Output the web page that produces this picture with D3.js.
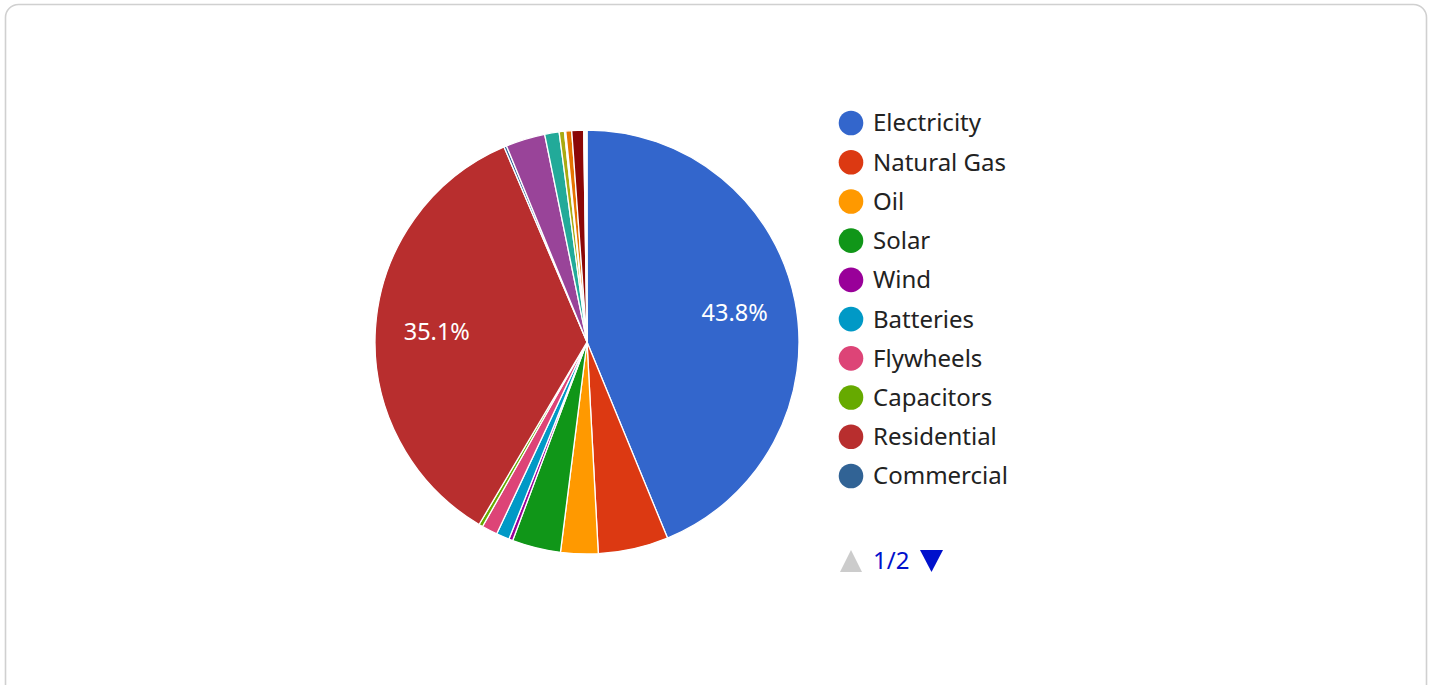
<!DOCTYPE html>
<html>
<head>
<meta charset="utf-8">
<script src="https://cdn.jsdelivr.net/npm/d3@7"></script>
<style>
  html, body { margin: 0; padding: 0; background: #fff; }
  svg { display: block; font-family: "Noto Sans", "Open Sans", sans-serif; }
</style>
</head>
<body>
<svg id="chart"></svg>
<script>
// slice names, shares (%) and colours, clockwise from 12 o'clock
const categories = [
  "Electricity", "Natural Gas", "Oil", "Solar", "Wind", "Batteries",
  "Flywheels", "Capacitors", "Residential", "Commercial",
  "Industrial", "Transportation", "Agriculture", "Hydro", "Nuclear",
  "Geothermal", "Biomass", "Hydrogen", "Other"
];
const shares = [
  43.8, 5.35, 2.85, 3.7, 0.3, 1.0,
  1.2, 0.3, 35.1, 0.2,
  3.0, 1.1, 0.4, 0.1, 0.45,
  0.9, 0.1, 0.1, 0.05
];
const colors = [
  "#3366cc", "#dc3912", "#ff9900", "#109618", "#990099", "#0099c6",
  "#dd4477", "#66aa00", "#b82e2e", "#316395",
  "#994499", "#22aa99", "#aaaa11", "#6633cc", "#e67300",
  "#8b0707", "#651067", "#329262", "#5574a6"
];
const legendPage = "1/2";

const width = 1432;
const height = 685;
const cx = 587, cy = 342, radius = 212;

const svg = d3.select("svg#chart").attr("width", width).attr("height", height);

// card border
svg.append("rect")
  .attr("x", 5.5).attr("y", 4.5)
  .attr("width", 1421).attr("height", 720)
  .attr("rx", 13)
  .style("fill", "none")
  .style("stroke", "#d0d0d0")
  .style("stroke-width", 1.6);

const data = categories.map((name, i) => ({ name, value: shares[i], color: colors[i] }));
const total = d3.sum(shares);

const pie = d3.pie().sort(null).value(d => d.value);
const arcs = pie(data);
const arc = d3.arc().innerRadius(0).outerRadius(radius);
const labelArc = d3.arc().innerRadius(radius * 0.71).outerRadius(radius * 0.71);

const g = svg.append("g").attr("transform", `translate(${cx},${cy})`);

g.selectAll("path")
  .data(arcs)
  .join("path")
  .attr("d", arc)
  .style("fill", d => d.data.color)
  .style("stroke", "#fff")
  .style("stroke-width", 1.3)
  .style("stroke-linejoin", "round");

const fmt = d3.format(".1%");
g.selectAll("text.slice-label")
  .data(arcs.filter(d => d.data.value / total > 0.2))
  .join("text")
  .attr("class", "slice-label")
  .attr("transform", d => `translate(${labelArc.centroid(d)})`)
  .attr("text-anchor", "middle")
  .attr("dy", "0.35em")
  .style("fill", "#fff")
  .style("font-size", "23.5px")
  .text(d => fmt(d.data.value / total));

// legend (first page)
const legendY = d3.scalePoint(d3.range(10), [123, 476]);
const legend = svg.append("g");
const rows = legend.selectAll("g")
  .data(data.slice(0, 10))
  .join("g")
  .attr("transform", (d, i) => `translate(0,${legendY(i)})`);

rows.append("circle")
  .attr("cx", 851).attr("cy", 0).attr("r", 12.3)
  .style("fill", d => d.color);

rows.append("text")
  .attr("x", 873)
  .attr("dy", "0.35em")
  .style("fill", "#222")
  .style("font-size", "24px")
  .text(d => d.name);

// pager
const pager = svg.append("g").attr("transform", "translate(0,561)");
pager.append("path")
  .attr("d", d3.line()([[840, 11], [851, -11], [862, 11]]) + "Z")
  .style("fill", "#cccccc");
pager.append("text")
  .attr("x", 873).attr("dy", "0.35em")
  .style("fill", "#0011cc")
  .style("font-size", "24px")
  .text(legendPage);
pager.append("path")
  .attr("d", d3.line()([[920, -11], [943, -11], [931.5, 11]]) + "Z")
  .style("fill", "#0011cc");
</script>
</body>
</html>
